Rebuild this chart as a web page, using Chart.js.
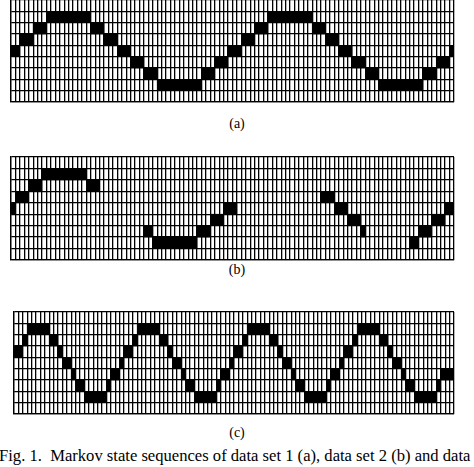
<!DOCTYPE html>
<html>
<head>
<meta charset="utf-8">
<script src="https://cdn.jsdelivr.net/npm/chart.js@4.4.1/dist/chart.umd.min.js"></script>
<style>
  html, body { margin: 0; padding: 0; background: #fff; }
  body { width: 474px; height: 467px; position: relative; overflow: hidden;
         font-family: "Liberation Serif", "DejaVu Serif", serif; color: #000; }
  canvas { position: absolute; }
  .lbl { position: absolute; left: 0; width: 474px; text-align: center; font-size: 14px; line-height: 16px; }
  #caption { position: absolute; left: -1px; top: 446px; white-space: nowrap; font-size: 16.6px; line-height: 19px; }
</style>
</head>
<body>
<canvas id="chart-a"></canvas>
<div class="lbl" style="top:116px">(a)</div>
<canvas id="chart-b"></canvas>
<div class="lbl" style="top:262px">(b)</div>
<canvas id="chart-c"></canvas>
<div class="lbl" style="top:425px">(c)</div>
<div id="caption">Fig. 1.&nbsp; Markov state sequences of data set 1 (a), data set 2 (b) and data</div>

<script>
// Markov state (row 1 = top plateau, 7 = bottom plateau) for each of the 100 time steps
// null = no state drawn for that step
const stateSeqA = [
    4, 4, 3, 3, 3, 2, 2, 2, 1, 1,
    1, 1, 1, 1, 1, 1, 1, 1, 2, 2,
    2, 3, 3, 3, 4, 4, 4, 5, 5, 5,
    6, 6, 6, 7, 7, 7, 7, 7, 7, 7,
    7, 7, 7, 6, 6, 6, 5, 5, 5, 4,
    4, 4, 3, 3, 3, 2, 2, 2, 1, 1,
    1, 1, 1, 1, 1, 1, 1, 1, 2, 2,
    2, 3, 3, 3, 4, 4, 4, 5, 5, 5,
    6, 6, 6, 7, 7, 7, 7, 7, 7, 7,
    7, 7, 7, 6, 6, 6, 5, 5, 5, 4
];

const stateSeqB = [
    4, 3, 3, 3, 2, 2, 2, 1, 1, 1,
    1, 1, 1, 1, 1, 1, 1, 2, 2, 2,
    null, null, null, null, null, null, null, null, null, null,
    6, 6, 7, 7, 7, 7, 7, 7, 7, 7,
    7, 7, 6, 6, 6, 5, 5, 5, 4, 4,
    4, null, null, null, null, null, null, null, null, null,
    null, null, null, null, null, null, null, null, null, null,
    3, 3, 3, 4, 4, 4, 5, 5, 5, 6,
    null, null, null, null, null, null, null, null, null, null,
    7, 7, 6, 6, 6, 5, 5, 5, 4, 4
];

const stateSeqC = [
    3, 3, 2, 1, 1, 1, 1, 1, 2, 2,
    3, 4, 4, 5, 6, 6, 7, 7, 7, 7,
    7, 6, 5, 5, 4, 3, 3, 2, 1, 1,
    1, 1, 1, 2, 2, 3, 4, 4, 5, 6,
    6, 7, 7, 7, 7, 7, 6, 5, 5, 4,
    3, 3, 2, 1, 1, 1, 1, 1, 2, 2,
    3, 4, 4, 5, 6, 6, 7, 7, 7, 7,
    7, 6, 5, 5, 4, 3, 3, 2, 1, 1,
    1, 1, 1, 2, 2, 3, 4, 4, 5, 6,
    6, 7, 7, 7, 7, 7, 6, 5, 5, 5
];

const numRows = 9;   // grid rows 0..8
const timeSteps = stateSeqA.map((_, i) => String(i));

// Draw one state grid; box is the grid area in page pixels
function makePanel(id, states, box) {
    const canvas = document.getElementById(id);
    const pad = 1;
    canvas.width = box.width + 2 * pad;
    canvas.height = box.height + 2 * pad;
    canvas.style.left = (box.left - pad) + 'px';
    canvas.style.top = (box.top - pad) + 'px';

    const gridLine = { color: '#000', lineWidth: 1.3, drawTicks: false, tickLength: 0 };

    return new Chart(canvas.getContext('2d'), {
        type: 'bar',
        data: {
            labels: timeSteps,
            datasets: [{
                data: states.map(s => s == null ? null : [s, s + 1]),
                backgroundColor: '#000',
                borderWidth: 0,
                barPercentage: 1,
                categoryPercentage: 1
            }]
        },
        options: {
            responsive: false,
            animation: false,
            devicePixelRatio: 1,
            layout: { padding: pad },
            plugins: { legend: { display: false }, tooltip: { enabled: false } },
            scales: {
                x: {
                    offset: true,
                    grid: { ...gridLine, offset: true },
                    border: { color: '#000', width: 1.3 },
                    ticks: { display: false, autoSkip: false }
                },
                y: {
                    min: 0,
                    max: numRows,
                    reverse: true,
                    grid: gridLine,
                    border: { color: '#000', width: 1.3 },
                    ticks: { display: false, stepSize: 1 }
                }
            }
        }
    });
}

makePanel('chart-a', stateSeqA, { left: 11, top: 0, width: 443, height: 102 });
makePanel('chart-b', stateSeqB, { left: 11, top: 157, width: 443, height: 103 });
makePanel('chart-c', stateSeqC, { left: 14, top: 312, width: 440, height: 102 });
</script>
</body>
</html>
